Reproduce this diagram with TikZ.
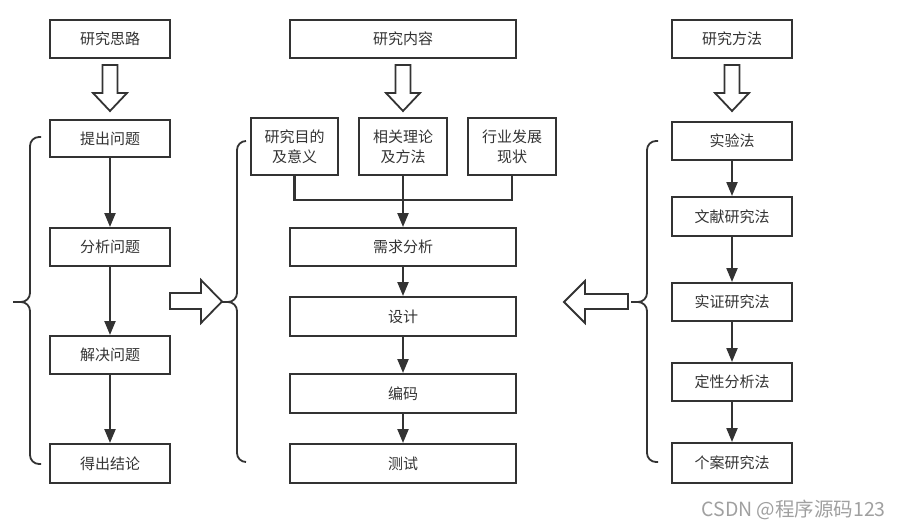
\documentclass[tikz,border=0pt]{standalone}
\usepackage{fontspec}
\setmainfont{Noto Sans CJK SC}
\usetikzlibrary{arrows.meta}
\definecolor{ink}{HTML}{333333}
\definecolor{wm}{HTML}{A0A0A0}
\begin{document}
\begin{tikzpicture}[x=1pt,y=-1pt,
  box/.style={draw=ink,line width=2pt,text=ink,inner sep=0pt,align=center,
    font=\fontsize{15}{20}\selectfont},
  flow/.style={draw=ink,line width=2.2pt,-{Triangle[length=14pt,width=11pt]}},
  plain/.style={draw=ink,line width=2.2pt},
  hollow/.style={draw=ink,line width=1.8pt,fill=white,line join=miter},
  brace/.style={draw=ink,line width=1.8pt,rounded corners=9pt}]
\useasboundingbox (0,0) rectangle (901,528);
% ---- left column
\node[box,minimum width=120pt,minimum height=38pt] (l0) at (110,39) {研究思路};
\node[box,minimum width=120pt,minimum height=37pt] (l1) at (110,138.5) {提出问题};
\node[box,minimum width=120pt,minimum height=38pt] (l2) at (110,247) {分析问题};
\node[box,minimum width=120pt,minimum height=38pt] (l3) at (110,355) {解决问题};
\node[box,minimum width=120pt,minimum height=39pt] (l4) at (110,463.5) {得出结论};
\draw[flow] (l1) -- (l2);
\draw[flow] (l2) -- (l3);
\draw[flow] (l3) -- (l4);
\draw[hollow] (102.5,65) -- (117.5,65) -- (117.5,93) -- (127,93) -- (110,111) -- (93,93) -- (102.5,93) -- cycle;
% ---- middle column
\node[box,minimum width=226pt,minimum height=38pt] (m0) at (403,39) {研究内容};
\node[box,minimum width=87pt,minimum height=57pt] (a1) at (294.5,146.5) {研究目的\\及意义};
\node[box,minimum width=88pt,minimum height=57pt] (a2) at (403,146.5) {相关理论\\及方法};
\node[box,minimum width=88pt,minimum height=57pt] (a3) at (512,146.5) {行业发展\\现状};
\node[box,minimum width=226pt,minimum height=38pt] (m1) at (403,247) {需求分析};
\node[box,minimum width=226pt,minimum height=39pt] (m2) at (403,316.5) {设计};
\node[box,minimum width=226pt,minimum height=39pt] (m3) at (403,393.5) {编码};
\node[box,minimum width=226pt,minimum height=39pt] (m4) at (403,463.5) {测试};
\coordinate (j) at (403,200);
\draw[plain] (a1.south) |- (a3.south |- j) -- (a3.south);
\draw[flow] (a2) -- (m1);
\draw[flow] (m1) -- (m2);
\draw[flow] (m2) -- (m3);
\draw[flow] (m3) -- (m4);
\draw[hollow] (395.5,65) -- (410.5,65) -- (410.5,93) -- (420,93) -- (403,111) -- (386,93) -- (395.5,93) -- cycle;
% ---- right column
\node[box,minimum width=120pt,minimum height=38pt] (r0) at (732,39) {研究方法};
\node[box,minimum width=120pt,minimum height=38pt] (r1) at (732,141) {实验法};
\node[box,minimum width=120pt,minimum height=39pt] (r2) at (732,216.5) {文献研究法};
\node[box,minimum width=120pt,minimum height=38pt] (r3) at (732,302) {实证研究法};
\node[box,minimum width=120pt,minimum height=38pt] (r4) at (732,382) {定性分析法};
\node[box,minimum width=120pt,minimum height=40pt] (r5) at (732,463) {个案研究法};
\draw[flow] (r1) -- (r2);
\draw[flow] (r2) -- (r3);
\draw[flow] (r3) -- (r4);
\draw[flow] (r4) -- (r5);
\draw[hollow] (724.5,65) -- (739.5,65) -- (739.5,93) -- (749,93) -- (732,111) -- (715,93) -- (724.5,93) -- cycle;
% ---- braces
\draw[brace] (41,137) -- (30,137) -- (30,302) -- (13,302);
\draw[brace] (41,464) -- (30,464) -- (30,302) -- (13,302);
\draw[brace] (246,141) -- (237,141) -- (237,302) -- (221,302);
\draw[brace] (246,462) -- (237,462) -- (237,302) -- (221,302);
\draw[brace] (658,141) -- (647,141) -- (647,302) -- (631,302);
\draw[brace] (658,462) -- (647,462) -- (647,302) -- (631,302);
% ---- side hollow arrows
\draw[hollow] (170,293) -- (201,293) -- (201,280) -- (222,301.5) -- (201,323) -- (201,309) -- (170,309) -- cycle;
\draw[hollow] (628,294) -- (585,294) -- (585,281) -- (564,302) -- (585,323) -- (585,309) -- (628,309) -- cycle;
% ---- watermark
\node[text=wm,anchor=east,inner sep=0pt,font=\fontsize{19.5}{22}\selectfont] (wmk) at (886,510) {CSDN @程序源码123};
\end{tikzpicture}
\end{document}
